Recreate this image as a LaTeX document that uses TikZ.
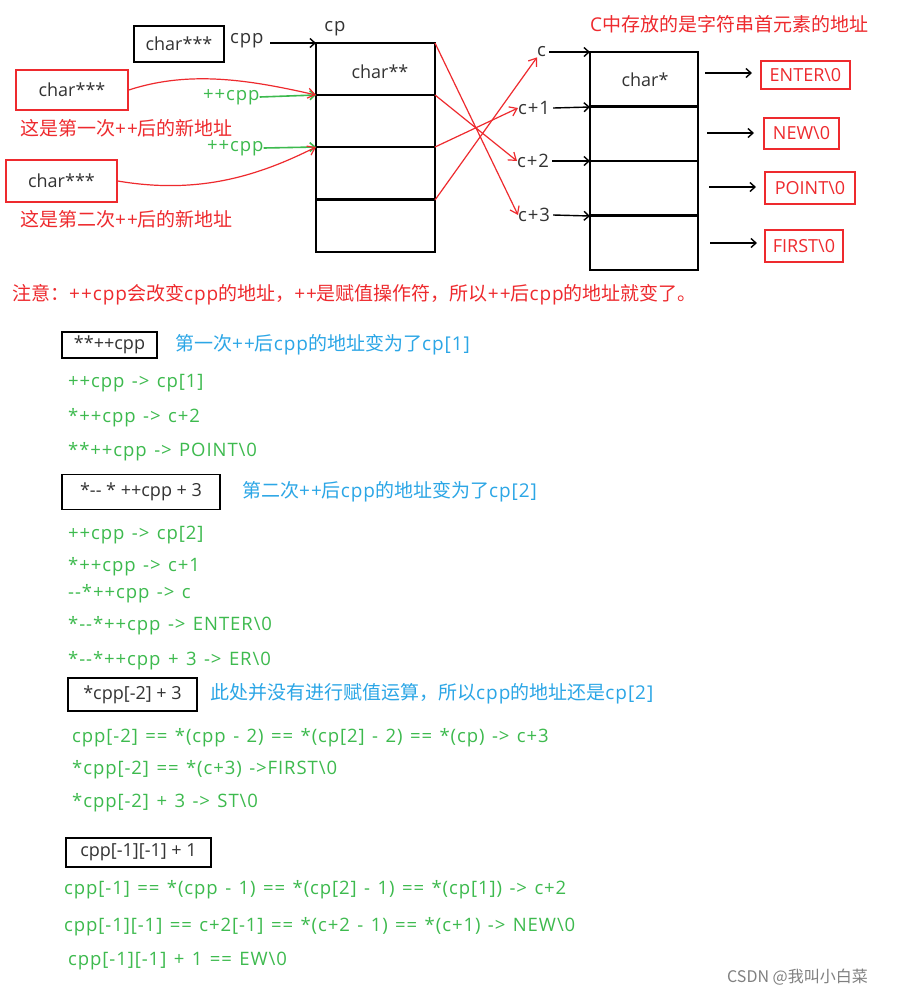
\documentclass[tikz,border=0pt]{standalone}
\usepackage{fontspec}
\setmainfont{Noto Sans CJK SC}
\newfontfamily\latf{Open Sans}[LetterSpace=5,WordSpace=1.3]
\newfontfamily\latb{Open Sans}
\newcommand{\lat}[1]{{\latf #1}}
\usetikzlibrary{arrows.meta}
\definecolor{rd}{HTML}{EE2A2E}
\definecolor{gn}{HTML}{3DBA4E}
\definecolor{bl}{HTML}{2BA6E6}
\definecolor{tx}{HTML}{333333}
\newcommand{\dd}{-{}-}
\tikzset{x=1pt,y=-1pt,
 every node/.style={font=\fontsize{19}{21}\selectfont,inner sep=0pt,text=tx},
 lat/.style={font=\fontsize{18.5}{20}\selectfont\latf},
 latb/.style={font=\fontsize{18}{20}\selectfont\latb},
 lt/.style={anchor=west,lat},
 rt/.style={anchor=west,text=rd},
 gt/.style={anchor=west,text=gn,lat},
 bt/.style={anchor=west,text=bl},
 bbox/.style={draw=black,line width=1.6pt,latb},
 rbox/.style={draw=rd,line width=1.6pt,latb},
 cell/.style={draw=black,line width=1.6pt},
 arr/.style={line width=1.4pt,-{Straight Barb[length=5pt,width=9pt]}},
 rarr/.style={draw=rd,line width=1.2pt,-{Straight Barb[length=7pt,width=10pt]}},
 garr/.style={draw=gn,line width=1.6pt,-{Straight Barb[length=5pt,width=9pt]}}}
\begin{document}
\begin{tikzpicture}
\useasboundingbox[fill=white] (0,0) rectangle (913,997);
% top left
\draw[bbox] (134,26) rectangle (224,62);
\node[latb] (b0) at (179,44) {char***};
\node[lt] (cpp) at (230,41) {cpp};
\node[lat] (cplab) at (335,29) {cp};
\foreach \y/\n in {43/0,95/1,147/2,200/3}{
 \draw[cell] (316,\y) rectangle (435,\y+52);
 \coordinate (L\n) at (316,\y); \coordinate (R\n) at (435,\y);}
\node[latb] at (380,72) {char**};
\draw[arr] (270,43) -- (L0);
\node[rbox,text=tx,minimum width=112pt,minimum height=40pt] (r1) at (72,90) {char***};
\node[rt] at (20,128) {这是第一次\lat{++}后的新地址};
\node[rbox,text=tx,minimum width=111pt,minimum height=42pt] (r2) at (61.5,181) {char***};
\node[rt] at (20,219) {这是第二次\lat{++}后的新地址};
\node[gt] (g1) at (203,97) {++cpp};
\node[gt] (g2) at (207,148) {++cpp};
\draw[garr] (g1.east) -- (L1);
\draw[garr] (g2.east) -- (L2);
\draw[rarr] (r1.east) .. controls (190,70) and (250,80) .. (L1);
\draw[rarr] (r2.east) .. controls (200,195) and (260,175) .. (L2);
% right
\node[lt] (c0) at (537,52) {c};
\node[lt] (c1) at (518,108) {c+1};
\node[lt] (c2) at (517,161) {c+2};
\node[lt] (c3) at (518,215) {c+3};
\draw[rarr] (R0) -- (c3.west);
\draw[rarr] (R1) -- (c2.west);
\draw[rarr] (R2) -- (c1.west);
\draw[rarr] (R3) -- (c0.south west);
\foreach \y/\n in {52/0,107/1,161/2,216/3}{
 \draw[cell] (590,\y) rectangle (698,\y+54);
 \coordinate (P\n) at (590,\y);}
\node[latb] at (645,80) {char*};
\draw[arr] (c0.east) ++(3,0) -- (P0);
\draw[arr] (c1.east) ++(3,0) -- (P1);
\draw[arr] (c2.east) ++(3,0) -- (P2);
\draw[arr] (c3.east) ++(3,0) -- (P3);
\node[rbox,text=rd,minimum width=89pt,minimum height=28pt] (s0) at (805.5,75) {ENTER\textbackslash 0};
\node[rbox,text=rd,minimum width=75pt,minimum height=31pt] (s1) at (801.5,133.5) {NEW\textbackslash 0};
\node[rbox,text=rd,minimum width=90pt,minimum height=32pt] (s2) at (810,188) {POINT\textbackslash 0};
\node[rbox,text=rd,minimum width=78pt,minimum height=32pt] (s3) at (804,246) {FIRST\textbackslash 0};
\coordinate (a0) at (705,73); \coordinate (a1) at (707,133); \coordinate (a2) at (709,187); \coordinate (a3) at (710,243);
\draw[arr] (a0) -- (752,73); \draw[arr] (a1) -- (754,133); \draw[arr] (a2) -- (756,187); \draw[arr] (a3) -- (757,243);
\node[rt] at (590,24) {\lat{C}中存放的是字符串首元素的地址};
\node[rt] at (12,295) {注意：\lat{++cpp}会改变\lat{cpp}的地址，\lat{++}是赋值操作符，所以\lat{++}后\lat{cpp}的地址就变了。};
% lower
\node[bbox,minimum width=95pt,minimum height=26pt] (k1) at (109.5,345) {**++cpp};
\node[bt] at (175,345) {第一次\lat{++}后\lat{cpp}的地址变为了\lat{cp[1]}};
\node[gt] at (68,383) {++cpp -> cp[1]};
\node[gt] at (68,418) {*++cpp -> c+2};
\node[gt] at (68,452) {**++cpp -> POINT\textbackslash 0};
\node[bbox,minimum width=158pt,minimum height=35pt] (k2) at (141,492) {*\dd{} * ++cpp + 3};
\node[bt] at (242,492) {第二次\lat{++}后\lat{cpp}的地址变为了\lat{cp[2]}};
\node[gt] at (68,535) {++cpp -> cp[2]};
\node[gt] at (68,567) {*++cpp -> c+1};
\node[gt] at (68,594) {\dd*++cpp -> c};
\node[gt] at (68,626) {*\dd*++cpp -> ENTER\textbackslash 0};
\node[gt] at (68,661) {*\dd*++cpp + 3 -> ER\textbackslash 0};
\node[bbox,minimum width=129pt,minimum height=33pt] (k3) at (132.5,694.5) {*cpp[-2] + 3};
\node[bt] at (210,694) {此处并没有进行赋值运算，所以\lat{cpp}的地址还是\lat{cp[2]}};
\node[gt] at (72,738) {cpp[-2] == *(cpp - 2) == *(cp[2] - 2) == *(cp) -> c+3};
\node[gt] at (72,770) {*cpp[-2] == *(c+3) ->FIRST\textbackslash 0};
\node[gt] at (72,803) {*cpp[-2] + 3 -> ST\textbackslash 0};
\node[bbox,minimum width=145pt,minimum height=29pt] (k4) at (138.5,852.5) {cpp[-1][-1] + 1};
\node[gt] at (64,890) {cpp[-1] == *(cpp - 1) == *(cp[2] - 1) == *(cp[1]) -> c+2};
\node[gt] at (64,927) {cpp[-1][-1] == c+2[-1] == *(c+2 - 1) == *(c+1) -> NEW\textbackslash 0};
\node[gt] at (68,961) {cpp[-1][-1] + 1 == EW\textbackslash 0};
\node[anchor=west,text=gray,font=\fontsize{16}{18}\selectfont] at (727,977) {CSDN @我叫小白菜};
\end{tikzpicture}
\end{document}
